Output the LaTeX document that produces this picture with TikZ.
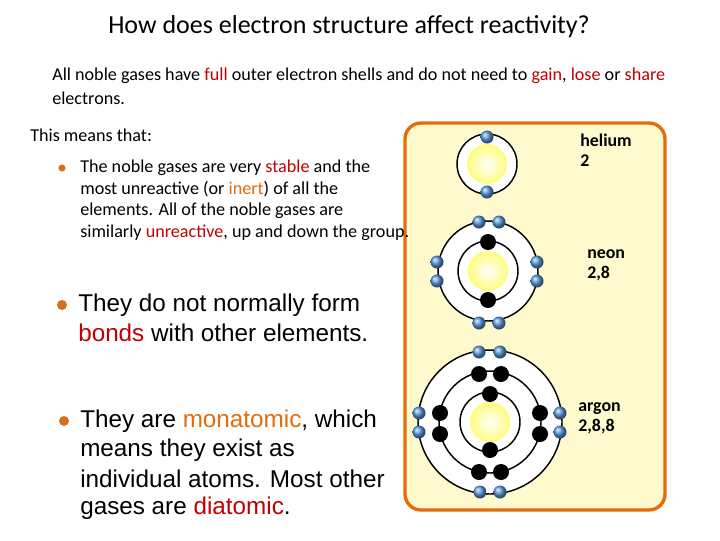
\documentclass[tikz,border=0pt]{standalone}
\usepackage{fontspec}
\setmainfont{Carlito}
\newfontfamily\arialf{Liberation Sans}
\definecolor{kred}{HTML}{C00000}
\definecolor{kor}{HTML}{E46C0A}
\definecolor{kbul}{HTML}{D07020}
\definecolor{kpanel}{HTML}{FFFACD}
\definecolor{kblue}{HTML}{5A9BE0}
\begin{document}
\begin{tikzpicture}[x=0.75pt,y=-0.75pt,
  txt/.style={anchor=west,inner sep=0pt,font=\fontsize{13.6}{16}\selectfont},
  big/.style={anchor=west,inner sep=0pt,font=\arialf\fontsize{18.2}{21}\selectfont},
  lab/.style={anchor=west,inner sep=0pt,font=\bfseries\fontsize{13.4}{15}\selectfont,align=left},
  orb/.style={draw=black,line width=1.1pt},
  blu/.style={ball color=kblue,draw=none},
  blk/.style={fill=black}]
\useasboundingbox (0,0) rectangle (720,540);
\fill[white] (0,0) rectangle (720,540);
% panel
\draw[kor,line width=2.5pt,fill=kpanel,rounded corners=12] (405,123) rectangle (665,510);
\node[inner sep=0pt,font=\fontsize{19.5}{22}\selectfont] (title) at (349,27) {How does electron structure affect reactivity?};
\node[txt] (p1) at (52,76) {All noble gases have \textcolor{kred}{full} outer electron shells and do not need to \textcolor{kred}{gain}, \textcolor{kred}{lose} or \textcolor{kred}{share}};
\node[txt] (p2) at (52,98) {electrons.};
\node[txt] (p3) at (30,135) {This means that:};
\fill[kbul] (62,168) circle (3.5);
\node[txt] (b1a) at (80,168) {The noble gases are very \textcolor{kred}{stable} and the};
\node[txt] (b1b) at (80,189) {most unreactive (or \textcolor{kor}{inert}) of all the};
\node[txt] (b1c) at (80,211) {elements. All of the noble gases are};
\node[txt] (b1d) at (80,233) {similarly \textcolor{kred}{unreactive}, up and down the group.};
\fill[kbul] (62,305) circle (5);
\node[big] (b2a) at (78,305) {They do not normally form};
\node[big] (b2b) at (78,333) {\textcolor{kred}{bonds} with other elements.};
\fill[kbul] (64,421) circle (5);
\node[big] (b3a) at (80,421) {They are \textcolor{kor}{monatomic}, which};
\node[big] (b3b) at (80,450) {means they exist as};
\node[big] (b3c) at (80,479) {individual atoms. Most other};
\node[big] (b3d) at (80,508) {gases are \textcolor{kred}{diatomic}.};
% helium
\fill[white] (487,164) circle (30);
\draw[orb] (487,164) circle (30);
\shade[inner color=white,outer color=kpanel!60!yellow] (487,164) circle (20);
\foreach \p in {(487,137),(487,192)} \shade[blu] \p circle (6.5);
% neon
\fill[white] (488,271) circle (50);
\draw[orb] (488,271) circle (50);
\draw[orb] (488,271) circle (30);
\shade[inner color=white,outer color=kpanel!60!yellow] (488,271) circle (20);
\foreach \p in {(488,242),(488,300)} \fill[blk] \p circle (8);
\foreach \p in {(479,222),(499,222),(479,323),(499,323),(437,262),(437,281),(537,262),(537,281)} \shade[blu] \p circle (6.5);
% argon
\fill[white] (490,422) circle (72);
\draw[orb] (490,422) circle (72);
\draw[orb] (490,422) circle (51);
\draw[orb] (490,422) circle (30);
\shade[inner color=white,outer color=kpanel!60!yellow] (490,422) circle (20);
\foreach \p in {(490,394),(490,450),(479,374),(501,374),(479,472),(501,472),(440,413),(440,434),(540,413),(540,434)} \fill[blk] \p circle (8);
\foreach \p in {(479,352),(500,352),(480,492),(500,492),(419,413),(419,432),(560,413),(560,432)} \shade[blu] \p circle (6.5);
\node[lab] (he) at (580,150) {helium\\2};
\node[lab] (ne) at (587,265) {neon\\2,8};
\node[lab] (ar) at (578,418) {argon\\2,8,8};
\end{tikzpicture}
\end{document}
